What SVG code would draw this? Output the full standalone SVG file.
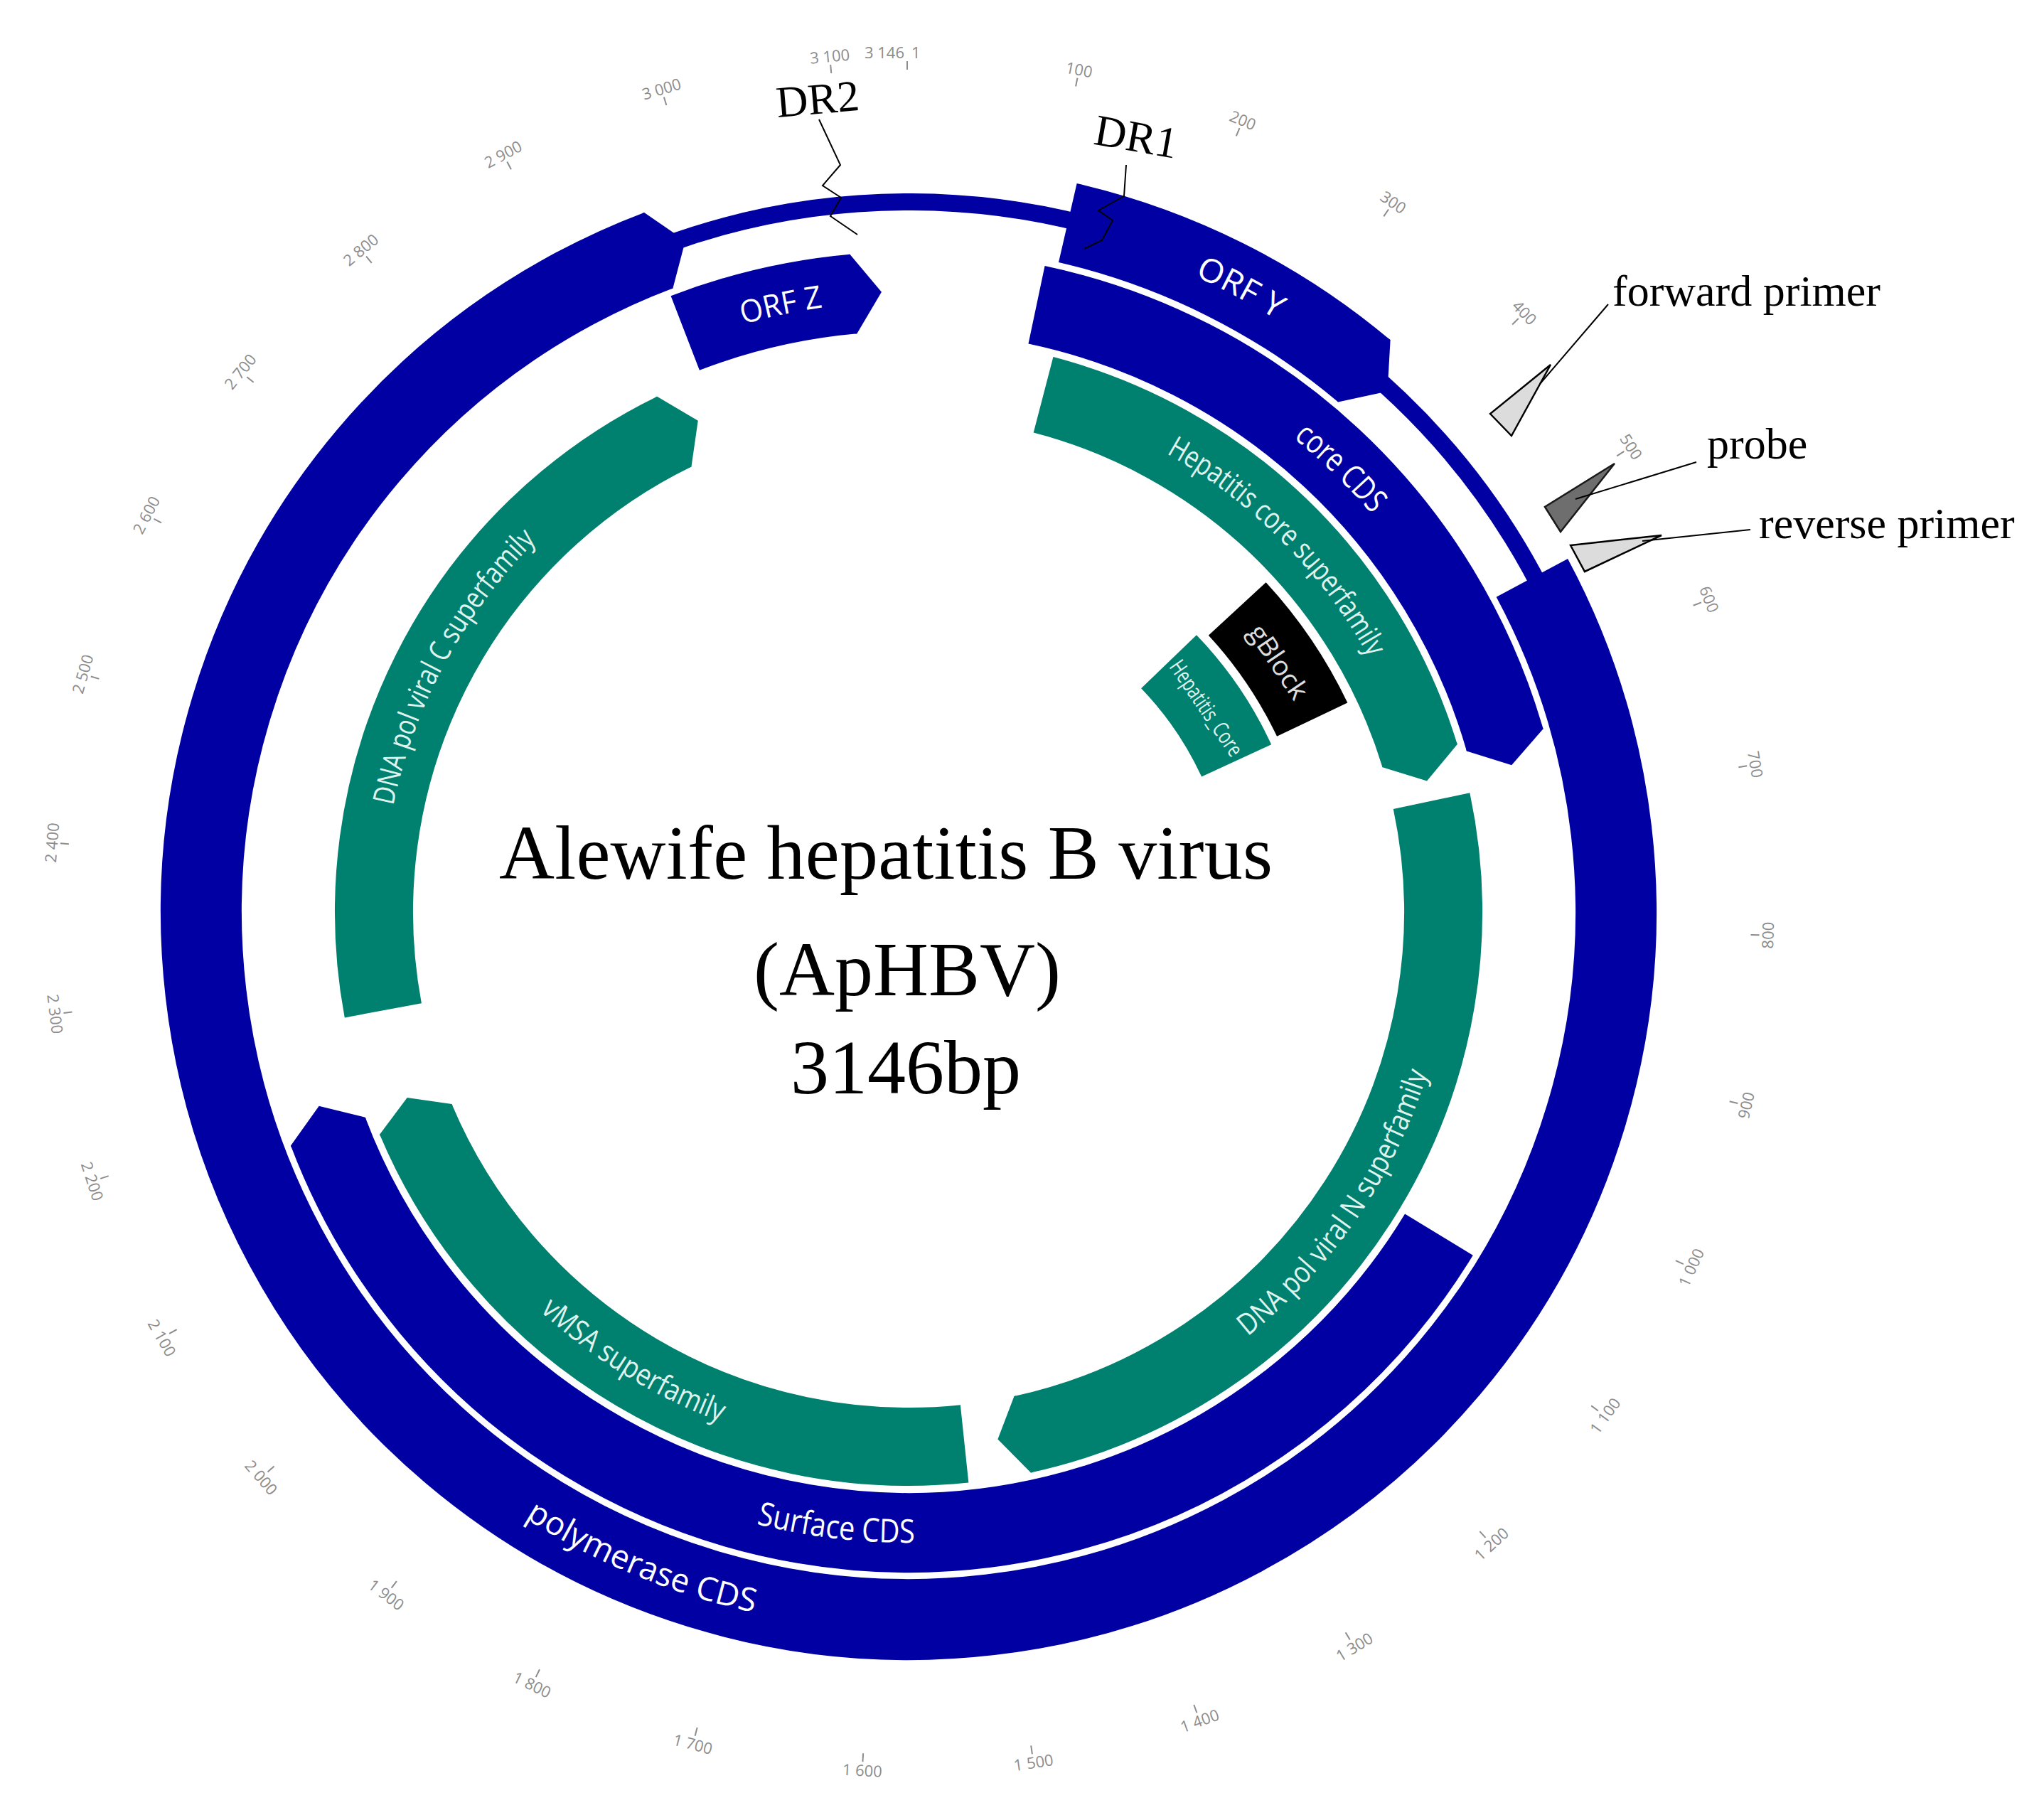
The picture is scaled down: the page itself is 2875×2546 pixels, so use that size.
<svg xmlns="http://www.w3.org/2000/svg" width="2875" height="2546" viewBox="0 0 2875 2546">
<style>
.bl{fill:none;stroke:#0000a3}
.blf{fill:#0000a3}
.tl{fill:none;stroke:#00806f}
.tlf{fill:#00806f}
.tick text{font-family:"Open Sans","DejaVu Sans",sans-serif;font-size:22px;fill:#8c8c8c;text-anchor:middle}
.tick line{stroke:#8c8c8c;stroke-width:2}
.flab{font-family:"Open Sans","DejaVu Sans",sans-serif;fill:#ffffff;text-anchor:middle}
.tlab{font-family:"Open Sans","DejaVu Sans",sans-serif;fill:#dff3ee;text-anchor:middle}
.serif{font-family:"Liberation Serif","Times New Roman",serif;fill:#000000}
.lead{fill:none;stroke:#000000;stroke-width:2}
</style>
<defs>
<path id="pT1t" d="M 584.33 589.33 A 981 981 0 0 1 1971.67 589.33"/>
<path id="pT1b" d="M 564.53 1996.47 A 1009 1009 0 0 0 1991.47 1996.47"/>
<path id="pT2t" d="M 670.59 675.59 A 859 859 0 0 1 1885.41 675.59"/>
<path id="pT2b" d="M 650.79 1910.21 A 887 887 0 0 0 1905.21 1910.21"/>
<path id="pT3t" d="M 754.74 759.74 A 740 740 0 0 1 1801.26 759.74"/>
<path id="pT3b" d="M 737.77 1823.23 A 764 764 0 0 0 1818.23 1823.23"/>
</defs>
<rect width="2875" height="2546" fill="#ffffff"/>

<g id="ticks" class="tick">
<g transform="rotate(11.443 1278 1283)"><line x1="1278" y1="86" x2="1278" y2="98"/><text x="1278" y="82">100</text></g>
<g transform="rotate(22.886 1278 1283)"><line x1="1278" y1="86" x2="1278" y2="98"/><text x="1278" y="82">200</text></g>
<g transform="rotate(34.329 1278 1283)"><line x1="1278" y1="86" x2="1278" y2="98"/><text x="1278" y="82">300</text></g>
<g transform="rotate(45.772 1278 1283)"><line x1="1278" y1="86" x2="1278" y2="98"/><text x="1278" y="82">400</text></g>
<g transform="rotate(57.216 1278 1283)"><line x1="1278" y1="86" x2="1278" y2="98"/><text x="1278" y="82">500</text></g>
<g transform="rotate(68.659 1278 1283)"><line x1="1278" y1="86" x2="1278" y2="98"/><text x="1278" y="82">600</text></g>
<g transform="rotate(80.102 1278 1283)"><line x1="1278" y1="86" x2="1278" y2="98"/><text x="1278" y="82">700</text></g>
<g transform="rotate(91.545 1278 1283)"><line x1="1278" y1="86" x2="1278" y2="98"/><text x="1278" y="82" transform="rotate(180 1278 74)">800</text></g>
<g transform="rotate(102.988 1278 1283)"><line x1="1278" y1="86" x2="1278" y2="98"/><text x="1278" y="82" transform="rotate(180 1278 74)">900</text></g>
<g transform="rotate(114.431 1278 1283)"><line x1="1278" y1="86" x2="1278" y2="98"/><text x="1278" y="82" transform="rotate(180 1278 74)">1 000</text></g>
<g transform="rotate(125.874 1278 1283)"><line x1="1278" y1="86" x2="1278" y2="98"/><text x="1278" y="82" transform="rotate(180 1278 74)">1 100</text></g>
<g transform="rotate(137.317 1278 1283)"><line x1="1278" y1="86" x2="1278" y2="98"/><text x="1278" y="82" transform="rotate(180 1278 74)">1 200</text></g>
<g transform="rotate(148.760 1278 1283)"><line x1="1278" y1="86" x2="1278" y2="98"/><text x="1278" y="82" transform="rotate(180 1278 74)">1 300</text></g>
<g transform="rotate(160.203 1278 1283)"><line x1="1278" y1="86" x2="1278" y2="98"/><text x="1278" y="82" transform="rotate(180 1278 74)">1 400</text></g>
<g transform="rotate(171.646 1278 1283)"><line x1="1278" y1="86" x2="1278" y2="98"/><text x="1278" y="82" transform="rotate(180 1278 74)">1 500</text></g>
<g transform="rotate(183.090 1278 1283)"><line x1="1278" y1="86" x2="1278" y2="98"/><text x="1278" y="82" transform="rotate(180 1278 74)">1 600</text></g>
<g transform="rotate(194.533 1278 1283)"><line x1="1278" y1="86" x2="1278" y2="98"/><text x="1278" y="82" transform="rotate(180 1278 74)">1 700</text></g>
<g transform="rotate(205.976 1278 1283)"><line x1="1278" y1="86" x2="1278" y2="98"/><text x="1278" y="82" transform="rotate(180 1278 74)">1 800</text></g>
<g transform="rotate(217.419 1278 1283)"><line x1="1278" y1="86" x2="1278" y2="98"/><text x="1278" y="82" transform="rotate(180 1278 74)">1 900</text></g>
<g transform="rotate(228.862 1278 1283)"><line x1="1278" y1="86" x2="1278" y2="98"/><text x="1278" y="82" transform="rotate(180 1278 74)">2 000</text></g>
<g transform="rotate(240.305 1278 1283)"><line x1="1278" y1="86" x2="1278" y2="98"/><text x="1278" y="82" transform="rotate(180 1278 74)">2 100</text></g>
<g transform="rotate(251.748 1278 1283)"><line x1="1278" y1="86" x2="1278" y2="98"/><text x="1278" y="82" transform="rotate(180 1278 74)">2 200</text></g>
<g transform="rotate(263.191 1278 1283)"><line x1="1278" y1="86" x2="1278" y2="98"/><text x="1278" y="82" transform="rotate(180 1278 74)">2 300</text></g>
<g transform="rotate(274.634 1278 1283)"><line x1="1278" y1="86" x2="1278" y2="98"/><text x="1278" y="82">2 400</text></g>
<g transform="rotate(286.077 1278 1283)"><line x1="1278" y1="86" x2="1278" y2="98"/><text x="1278" y="82">2 500</text></g>
<g transform="rotate(297.520 1278 1283)"><line x1="1278" y1="86" x2="1278" y2="98"/><text x="1278" y="82">2 600</text></g>
<g transform="rotate(308.964 1278 1283)"><line x1="1278" y1="86" x2="1278" y2="98"/><text x="1278" y="82">2 700</text></g>
<g transform="rotate(320.407 1278 1283)"><line x1="1278" y1="86" x2="1278" y2="98"/><text x="1278" y="82">2 800</text></g>
<g transform="rotate(331.850 1278 1283)"><line x1="1278" y1="86" x2="1278" y2="98"/><text x="1278" y="82">2 900</text></g>
<g transform="rotate(343.293 1278 1283)"><line x1="1278" y1="86" x2="1278" y2="98"/><text x="1278" y="82">3 000</text></g>
<g transform="rotate(354.736 1278 1283)"><line x1="1278" y1="86" x2="1278" y2="98"/><text x="1278" y="82">3 100</text></g>
<g><line x1="1276" y1="86" x2="1276" y2="98"/><text x="1272" y="82" style="text-anchor:end">3 146</text><text x="1282" y="82" style="text-anchor:start">1</text></g>
</g>

<g id="backbone-thin">
<circle cx="1278" cy="1283" r="999" class="bl" stroke-width="24" pathLength="360" stroke-dasharray="84 400" transform="rotate(250 1278 1283)"/>
</g>

<g id="polymerase-cds">
<circle cx="1278" cy="1283" r="995" class="bl" stroke-width="114" pathLength="360" stroke-dasharray="277.5 400" transform="rotate(-28.2 1278 1283)"/>
<polygon class="blf" points="1275,231 1278,231 1317.93,288.8 1278,345 1275,345" transform="rotate(339.3 1278 1283)"/>
<text class="flab" font-size="46" transform="rotate(22.4 1278 1283)"><textPath href="#pT1b" startOffset="50%" textLength="350" lengthAdjust="spacingAndGlyphs">polymerase CDS</textPath></text>
</g>

<g id="orf-y">
<circle cx="1278" cy="1283" r="995" class="bl" stroke-width="114" pathLength="360" stroke-dasharray="27.1 400" transform="rotate(-77 1278 1283)"/>
<polygon class="blf" points="1275,231 1278,231 1321.4,288.95 1278,345 1275,345" transform="rotate(40.1 1278 1283)"/>
<text class="flab" font-size="46" transform="rotate(28 1278 1283)"><textPath href="#pT1t" startOffset="50%" textLength="130" lengthAdjust="spacingAndGlyphs">ORF Y</textPath></text>
</g>

<g id="core-cds">
<circle cx="1278" cy="1283" r="873" class="bl" stroke-width="112" pathLength="360" stroke-dasharray="62 400" transform="rotate(-78.1 1278 1283)"/>
<polygon class="blf" points="1275,354 1278,354 1314.56,410.77 1278,466 1275,466" transform="rotate(73.9 1278 1283)"/>
<text class="flab" font-size="46" transform="rotate(44.2 1278 1283)"><textPath href="#pT2t" startOffset="50%" textLength="154" lengthAdjust="spacingAndGlyphs">core CDS</textPath></text>
</g>

<g id="surface-cds">
<circle cx="1278" cy="1283" r="873" class="bl" stroke-width="112" pathLength="360" stroke-dasharray="128 400" transform="rotate(31.3 1278 1283)"/>
<polygon class="blf" points="1275,354 1278,354 1316.08,410.83 1278,466 1275,466" transform="rotate(249.3 1278 1283)"/>
<text class="flab" font-size="46" transform="rotate(6.7 1278 1283)"><textPath href="#pT2b" startOffset="50%" textLength="225" lengthAdjust="spacingAndGlyphs">Surface CDS</textPath></text>
</g>

<g id="orf-z">
<circle cx="1278" cy="1283" r="873" class="bl" stroke-width="112" pathLength="360" stroke-dasharray="16 400" transform="rotate(248.9 1278 1283)"/>
<polygon class="blf" points="1275,354 1278,354 1317.6,410.9 1278,466 1275,466" transform="rotate(354.9 1278 1283)"/>
<text class="flab" font-size="44" transform="rotate(-11.9 1278 1283)"><textPath href="#pT2t" startOffset="50%" textLength="115" lengthAdjust="spacingAndGlyphs">ORF Z</textPath></text>
</g>

<g id="hepatitis-core-superfamily">
<circle cx="1278" cy="1283" r="752" class="tl" stroke-width="110" pathLength="360" stroke-dasharray="58.4 400" transform="rotate(-75.4 1278 1283)"/>
<polygon class="tlf" points="1275,476 1278,476 1314.74,531.9 1278,586 1275,586" transform="rotate(73 1278 1283)"/>
<text class="tlab" font-size="42" transform="rotate(45.2 1278 1283)"><textPath href="#pT3t" startOffset="50%" textLength="410" lengthAdjust="spacingAndGlyphs">Hepatitis core superfamily</textPath></text>
</g>

<g id="dna-pol-viral-n-superfamily">
<circle cx="1278" cy="1283" r="752" class="tl" stroke-width="110" pathLength="360" stroke-dasharray="89.7 400" transform="rotate(-12 1278 1283)"/>
<polygon class="tlf" points="1275,476 1278,476 1313.42,531.83 1278,586 1275,586" transform="rotate(167.7 1278 1283)"/>
<text class="tlab" font-size="42" transform="rotate(-55.7 1278 1283)"><textPath href="#pT3b" startOffset="50%" textLength="455" lengthAdjust="spacingAndGlyphs">DNA pol viral N superfamily</textPath></text>
</g>

<g id="vmsa-superfamily">
<circle cx="1278" cy="1283" r="752" class="tl" stroke-width="110" pathLength="360" stroke-dasharray="73.2 400" transform="rotate(84 1278 1283)"/>
<polygon class="tlf" points="1275,476 1278,476 1310.8,531.72 1278,586 1275,586" transform="rotate(247.2 1278 1283)"/>
<text class="tlab" font-size="42" transform="rotate(31.5 1278 1283)"><textPath href="#pT3b" startOffset="50%" textLength="300" lengthAdjust="spacingAndGlyphs">vMSA superfamily</textPath></text>
</g>

<g id="dna-pol-viral-c-superfamily">
<circle cx="1278" cy="1283" r="752" class="tl" stroke-width="110" pathLength="360" stroke-dasharray="74.6 400" transform="rotate(169.4 1278 1283)"/>
<polygon class="tlf" points="1275,476 1278,476 1314.74,531.9 1278,586 1275,586" transform="rotate(334 1278 1283)"/>
<text class="tlab" font-size="42" transform="rotate(-61.7 1278 1283)"><textPath href="#pT3t" startOffset="50%" textLength="430" lengthAdjust="spacingAndGlyphs">DNA pol viral C superfamily</textPath></text>
</g>

<g id="gblock">
<circle cx="1278" cy="1283" r="629" fill="none" stroke="#000000" stroke-width="110" pathLength="360" stroke-dasharray="17.2 400" transform="rotate(-42.7 1278 1283)"/>
<text x="1798" y="944" font-family="Open Sans, DejaVu Sans, sans-serif" font-size="38" fill="#dddddd" text-anchor="middle" textLength="118" lengthAdjust="spacingAndGlyphs" transform="rotate(55.9 1798 931)">gBlock</text>
</g>

<g id="hepatitis-core">
<circle cx="1278" cy="1283" r="508" class="tl" stroke-width="108" pathLength="360" stroke-dasharray="19.1 400" transform="rotate(-43.9 1278 1283)"/>
<text x="1697" y="1007" font-family="Open Sans, DejaVu Sans, sans-serif" font-size="31" fill="#dff3ee" text-anchor="middle" textLength="156" lengthAdjust="spacingAndGlyphs" transform="rotate(55.6 1697 996)">Hepatitis_Core</text>
</g>

<g id="forward-primer">
<polygon points="2096,582 2126,613 2181,513" fill="#dcdcdc" stroke="#000000" stroke-width="2.5"/>
<text class="serif" x="2268" y="430" font-size="62">forward primer</text>
</g>
<g id="probe">
<polygon points="2173,713 2195,748 2271,652" fill="#6e6e6e" stroke="#1a1a1a" stroke-width="2.5"/>
<text class="serif" x="2401" y="645" font-size="62">probe</text>
</g>
<g id="reverse-primer">
<polygon points="2209,767 2229,804 2337,753" fill="#dcdcdc" stroke="#000000" stroke-width="2.5"/>
<text class="serif" x="2474" y="757" font-size="62">reverse primer</text>
</g>

<g id="dr2">
<text class="serif" x="1150" y="160" font-size="62" text-anchor="middle" transform="rotate(-5 1150 140)">DR2</text>
</g>
<g id="dr1">
<text class="serif" x="1598" y="213" font-size="62" text-anchor="middle" transform="rotate(10 1598 193)">DR1</text>
</g>

<g id="connectors">
<path class="lead" d="M 1152 168 L 1182 232 L 1157 261 L 1183 278 L 1168 304 L 1206 330"/>
<path class="lead" d="M 1584 232 L 1581 276 L 1545 296 L 1565 310 L 1550 338 L 1525 350"/>
<path class="lead" d="M 2166 540 L 2262 428"/>
<path class="lead" d="M 2216 702 L 2386 650"/>
<path class="lead" d="M 2310 761 L 2462 745"/>
</g>

<g id="title">
<text class="serif" x="1246" y="1236" font-size="108" text-anchor="middle" textLength="1088" lengthAdjust="spacing">Alewife hepatitis B virus</text>
<text class="serif" x="1276" y="1400" font-size="108" text-anchor="middle">(ApHBV)</text>
<text class="serif" x="1274" y="1538" font-size="108" text-anchor="middle">3146bp</text>
</g>
</svg>
